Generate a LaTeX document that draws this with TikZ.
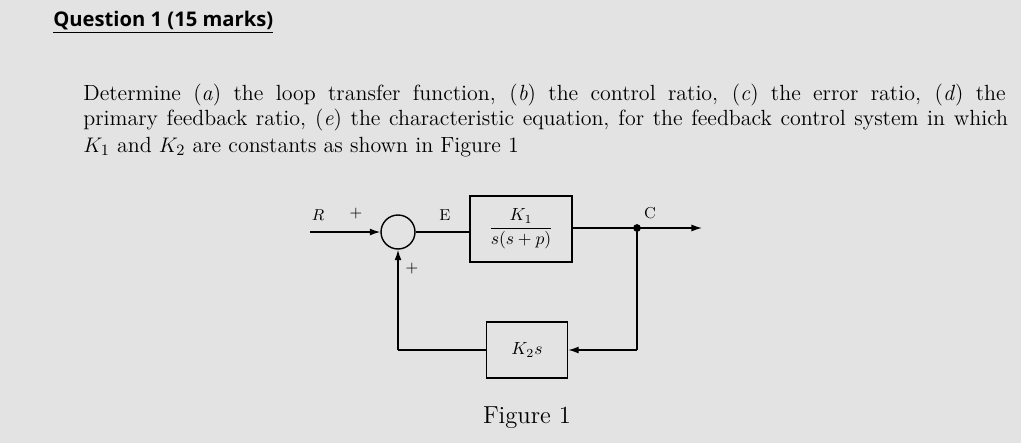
\documentclass[tikz,border=0pt]{standalone}
\usepackage{fontspec}
\usetikzlibrary{arrows.meta}
\newfontfamily\qfont{Open Sans}
\begin{document}
\begin{tikzpicture}[x=0.02cm,y=-0.02cm,
  blk/.style={draw,line width=0.8pt},
  ln/.style={line width=0.8pt},
  arr/.style={ln,-{Latex[length=6pt,width=4pt]}},
  txt/.style={anchor=west,inner sep=0pt,font=\fontsize{12.5}{14}\selectfont}]
\fill[gray!22] (0,0) rectangle (1021,443);
\useasboundingbox (0,0) rectangle (1021,443);
\node[anchor=west,inner sep=0pt,font=\qfont\bfseries\fontsize{11.5}{14}\selectfont] (q) at (53,22) {\underline{Question 1 (15 marks)}};
\node[txt] (l1) at (83,95) {\makebox[18.45cm][s]{Determine (\textit{a}) the loop transfer function, (\textit{b}) the control ratio, (\textit{c}) the error ratio, (\textit{d}) the}};
\node[txt] (l2) at (83,120) {\makebox[18.5cm][s]{primary feedback ratio, (\textit{e}) the characteristic equation, for the feedback control system in which}};
\node[txt] (l3) at (83,147) {$K_1$ and $K_2$ are constants as shown in Figure 1};
\coordinate (r) at (310,232);
\node[draw,circle,minimum size=0.68cm,inner sep=0pt,line width=0.8pt] (sum) at (398,232) {};
\node[blk,minimum width=2.04cm,minimum height=1.32cm,inner sep=0pt] (g) at (521,229) {$\displaystyle\frac{K_1}{s(s+p)}$};
\node[blk,minimum width=1.62cm,minimum height=1.12cm] (h) at (527,350) {$K_2 s$};
\coordinate (b) at (637,228);
\coordinate (c) at (702,228);
\coordinate (fr) at (637,350);
\coordinate (fl) at (398,350);
\fill (b) circle (2.2pt);
\node[font=\small] at (318,215) {$R$};
\node[font=\small] at (356,214) {$+$};
\node[font=\small] at (445,215) {E};
\node[font=\small] at (650,213) {C};
\node[font=\small] at (412,269) {$+$};
\draw[arr] (r) -- (sum.west);
\draw[ln] (sum.east) -- (sum.east -| g.west);
\draw[ln] (g.east |- b) -- (b);
\draw[arr] (b) -- (c);
\draw[ln] (b) -- (fr);
\draw[arr] (fr) -- (h.east);
\draw[ln] (h.west) -- (fl);
\draw[arr] (fl) -- (sum.south);
\node[font=\fontsize{14}{16}\selectfont] (fig) at (527,418) {Figure 1};
\end{tikzpicture}
\end{document}
